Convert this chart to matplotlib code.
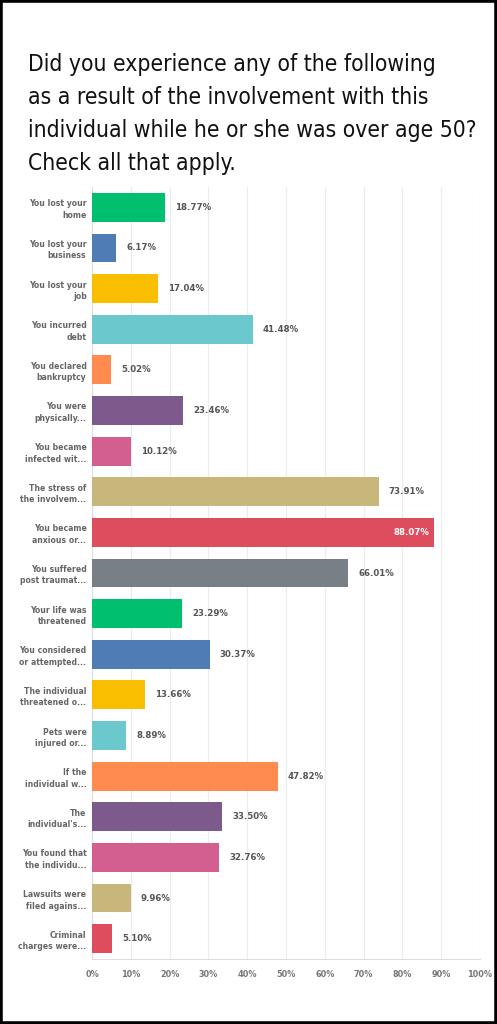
import matplotlib.pyplot as plt
import matplotlib.patches as patches
from matplotlib import font_manager

# data
labels = [
    'You lost your\nhome',
    'You lost your\nbusiness',
    'You lost your\njob',
    'You incurred\ndebt',
    'You declared\nbankruptcy',
    'You were\nphysically...',
    'You became\ninfected wit...',
    'The stress of\nthe involvem...',
    'You became\nanxious or...',
    'You suffered\npost traumat...',
    'Your life was\nthreatened',
    'You considered\nor attempted...',
    'The individual\nthreatened o...',
    'Pets were\ninjured or...',
    'If the\nindividual w...',
    'The\nindividual\'s...',
    'You found that\nthe individu...',
    'Lawsuits were\nfiled agains...',
    'Criminal\ncharges were...',
]
values = [18.77, 6.17, 17.04, 41.48, 5.02, 23.46, 10.12, 73.91, 88.07, 66.01,
          23.29, 30.37, 13.66, 8.89, 47.82, 33.50, 32.76, 9.96, 5.10]
colors = ['#00BF6F', '#507CB6', '#F9BE00', '#6BC8CD', '#FF8B4F', '#7D5A8C',
          '#D25F90', '#C7B77A', '#DE4D5E', '#768086',
          '#00BF6F', '#507CB6', '#F9BE00', '#6BC8CD', '#FF8B4F', '#7D5A8C',
          '#D25F90', '#C7B77A', '#DE4D5E']
ticks = [0, 10, 20, 30, 40, 50, 60, 70, 80, 90, 100]

# condensed face for the title if one is installed
condensed = [f for f in font_manager.fontManager.ttflist
             if f.stretch in ('condensed', 'semi-condensed', 'extra-condensed')
             and f.style == 'normal' and f.weight in (400, 'normal', 'regular')]
if condensed:
    title_kw = dict(fontproperties=font_manager.FontProperties(fname=condensed[0].fname, size=16.4))
    title_lines = 1.56
else:
    title_kw = dict(family='Liberation Sans', fontsize=15.5)
    title_lines = 1.55

fig = plt.figure(figsize=(4.97, 10.24), dpi=100)
ax = fig.add_axes([92 / 497, 1 - 959 / 1024, 388 / 497, 772 / 1024])

ypos = list(range(len(values)))
ax.barh(ypos, values, height=0.71, color=colors, zorder=3)
ax.set_xlim(0, 100)
ax.set_ylim(len(values) - 0.5, -0.5)

for y, v in zip(ypos, values):
    if v > 80:
        ax.text(v - 1.2, y, '{:.2f}%'.format(v), ha='right', va='center',
                fontsize=6.2, fontweight='bold', color='white', zorder=4)
    else:
        ax.text(v + 2.6, y, '{:.2f}%'.format(v), ha='left', va='center',
                fontsize=6.2, fontweight='bold', color='#555555', zorder=4)

ax.set_yticks(ypos)
ax.set_yticklabels(labels, fontsize=5.6, fontweight='bold', color='#666666',
                   linespacing=1.35)
ax.set_xticks(ticks)
ax.set_xticklabels(['{}%'.format(t) for t in ticks], fontsize=5.9,
                   fontweight='bold', color='#777777')
ax.tick_params(axis='both', length=0)
ax.tick_params(axis='y', pad=4)
ax.tick_params(axis='x', pad=8)
ax.grid(axis='x', color='#ececec', linewidth=0.8, zorder=0)
for s in ['top', 'right']:
    ax.spines[s].set_visible(False)
ax.spines['left'].set_color('#dddddd')
ax.spines['bottom'].set_color('#dddddd')

fig.text(28 / 497, 1 - 53 / 1024,
         'Did you experience any of the following\n'
         'as a result of the involvement with this\n'
         'individual while he or she was over age 50?\n'
         'Check all that apply.',
         ha='left', va='top', color='#111111', linespacing=title_lines,
         **title_kw)

fig.patches.append(patches.Rectangle((0, 0), 1, 1, transform=fig.transFigure,
                                     fill=False, edgecolor='black', linewidth=4))

plt.savefig('out.png', dpi=100)
